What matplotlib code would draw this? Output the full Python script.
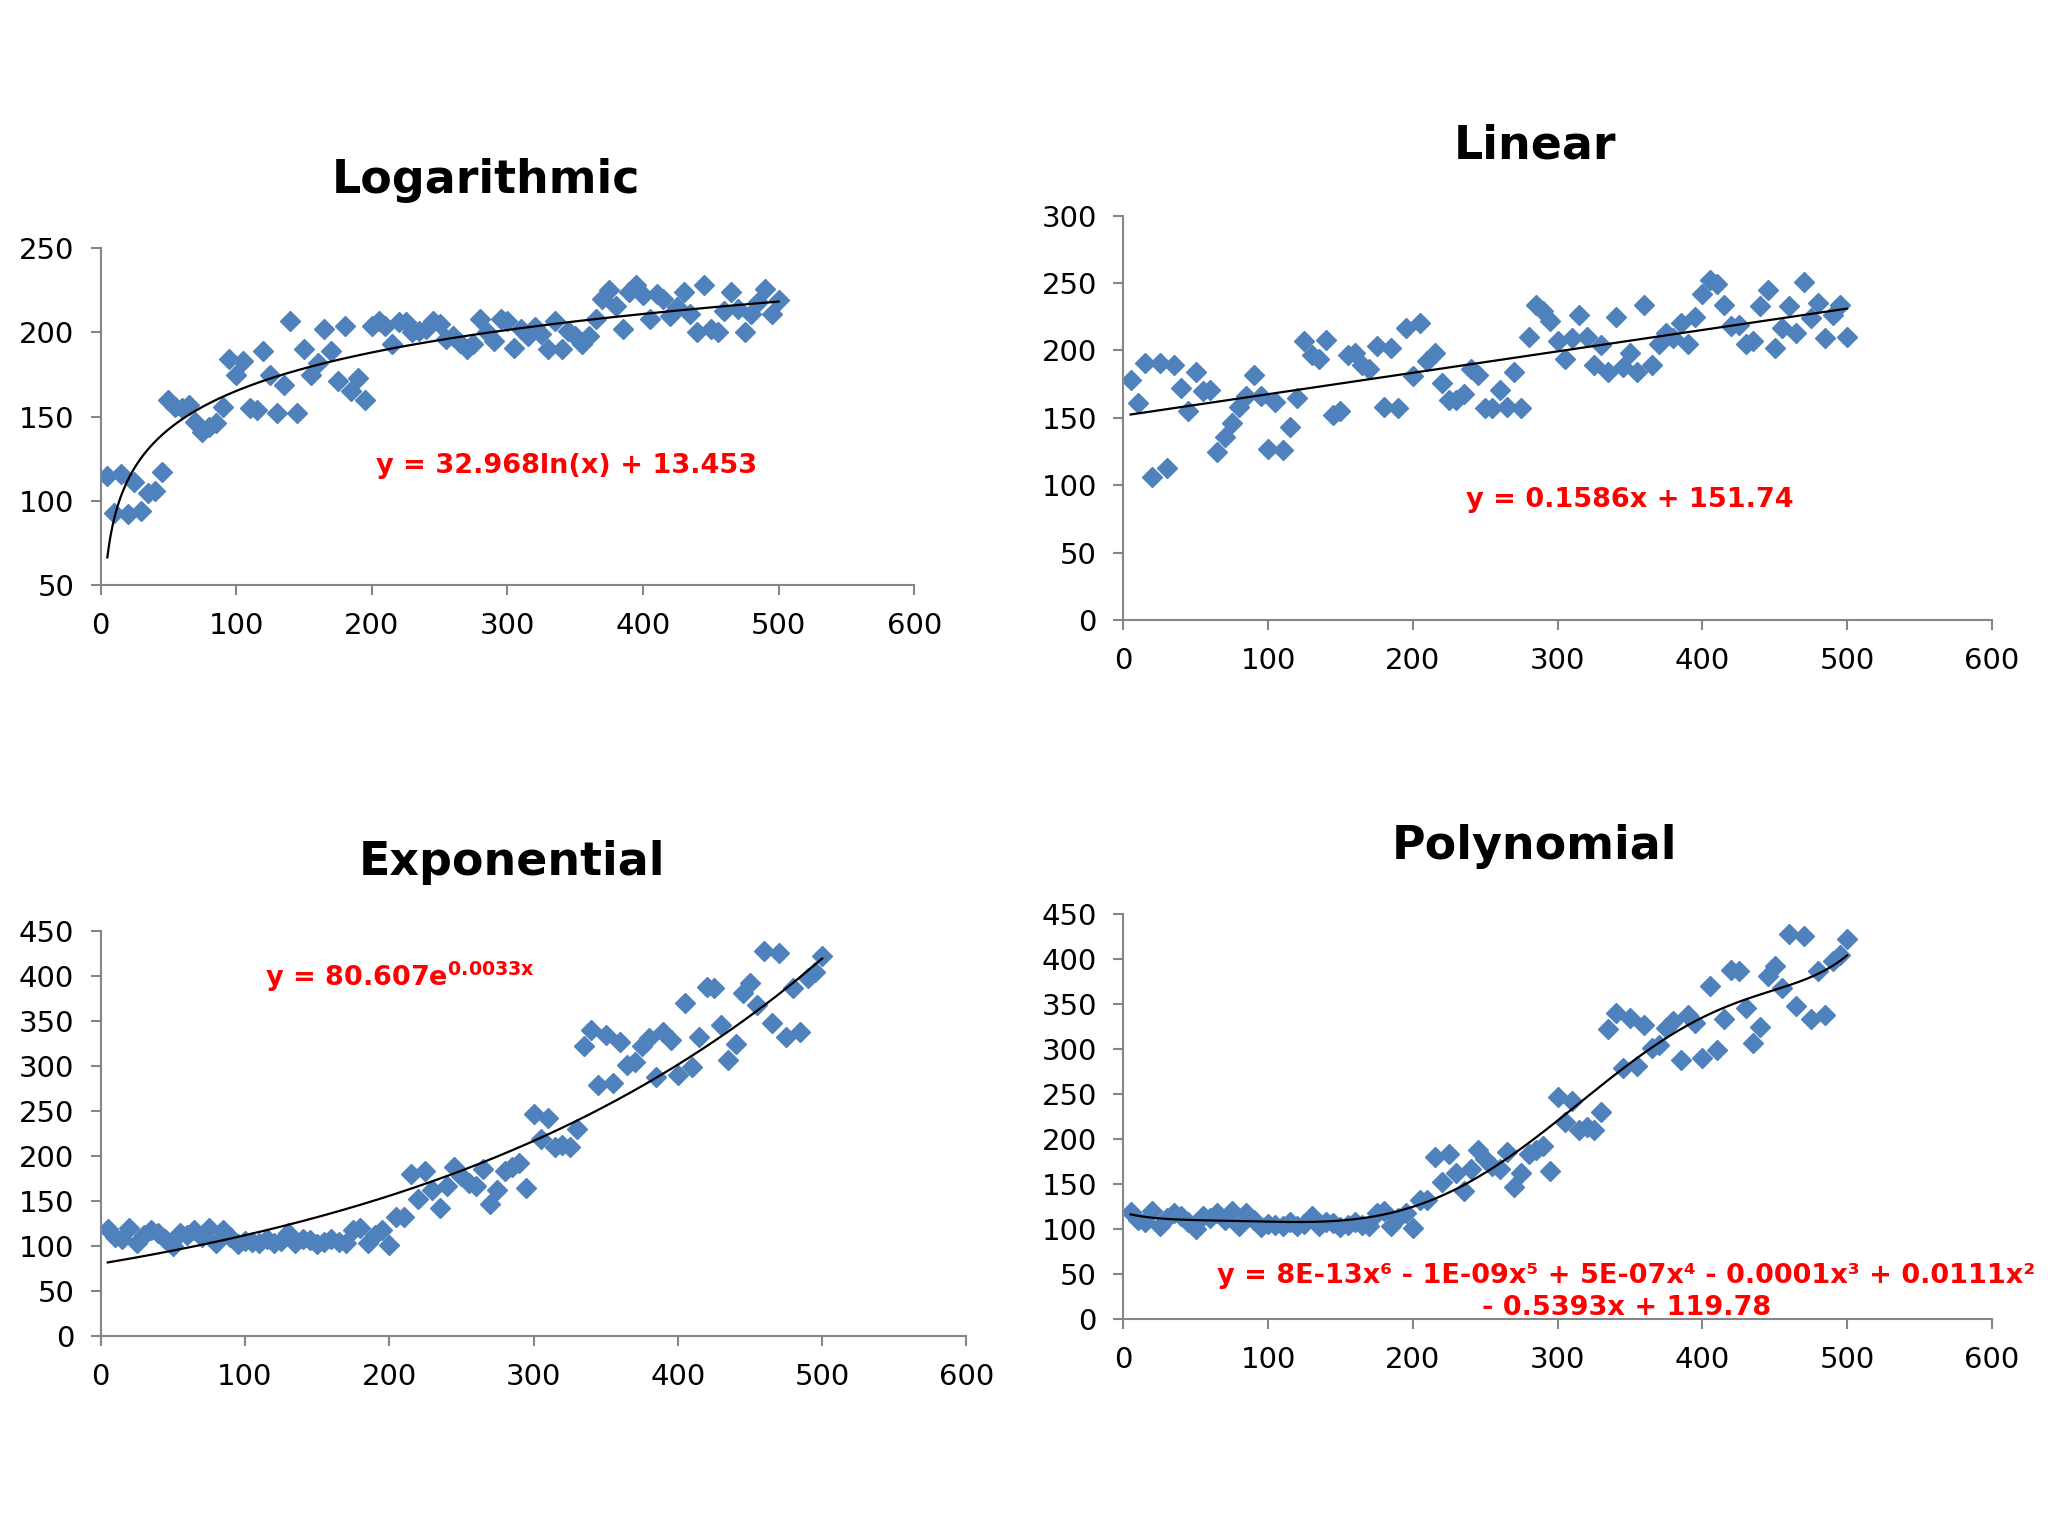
import numpy as np
import matplotlib
matplotlib.use("Agg")
import matplotlib.pyplot as plt

x = np.arange(5, 505, 5)

log_y = [115, 93, 116, 92, 111, 94, 105, 106, 117, 160,
         156, 155, 157, 147, 141, 144, 146, 156, 184, 175,
         183, 155, 154, 189, 175, 152, 169, 207, 152, 190,
         175, 182, 202, 189, 171, 204, 165, 173, 160, 204,
         207, 204, 193, 206, 206, 200, 201, 202, 207, 205,
         196, 198, 194, 190, 193, 208, 200, 195, 208, 207,
         191, 202, 198, 203, 199, 190, 207, 190, 201, 198,
         193, 198, 208, 220, 225, 216, 202, 224, 228, 222,
         208, 223, 220, 210, 215, 224, 211, 200, 228, 202,
         200, 213, 224, 214, 200, 211, 218, 226, 211, 219]

lin_y = [178, 161, 191, 106, 191, 113, 189, 172, 155, 184,
         170, 171, 125, 136, 146, 158, 166, 182, 166, 127,
         162, 126, 143, 165, 207, 197, 194, 208, 152, 155,
         197, 198, 189, 186, 203, 158, 202, 157, 217, 181,
         220, 192, 198, 176, 163, 163, 168, 186, 182, 157,
         157, 171, 158, 184, 157, 210, 234, 229, 222, 207,
         194, 209, 226, 210, 189, 204, 184, 225, 188, 198,
         184, 234, 189, 205, 213, 209, 220, 205, 225, 242,
         252, 249, 234, 218, 219, 205, 207, 233, 245, 202,
         217, 233, 213, 251, 224, 235, 209, 226, 234, 210]

# same series is used for the exponential and polynomial panels
grow_y = [119, 110, 108, 120, 103, 112, 118, 115, 108, 100,
          115, 112, 118, 110, 120, 103, 118, 110, 102, 106,
          105, 104, 108, 104, 106, 115, 104, 108, 107, 102,
          105, 108, 105, 103, 118, 120, 103, 112, 118, 101,
          132, 132, 180, 152, 184, 162, 142, 167, 188, 178,
          170, 167, 186, 147, 162, 184, 188, 192, 165, 247,
          219, 242, 210, 213, 210, 230, 322, 340, 279, 335,
          281, 327, 301, 305, 323, 331, 288, 338, 329, 290,
          370, 299, 333, 388, 387, 346, 307, 325, 381, 392,
          368, 428, 348, 426, 333, 387, 338, 398, 405, 422]

log_coef = [32.968, 13.453]
lin_coef = [0.1586, 151.74]
exp_coef = [80.607, 0.0033]

titles = ["Logarithmic", "Linear", "Exponential", "Polynomial"]
equations = ["y = 32.968ln(x) + 13.453",
             "y = 0.1586x + 151.74",
             r"y = 80.607e$^{\mathbf{0.0033x}}$",
             "y = 8E-13x\u2076 - 1E-09x\u2075 + 5E-07x\u2074 - 0.0001x\u00b3 + 0.0111x\u00b2\n- 0.5393x + 119.78"]

blue = "#4F81BD"
grey = "#868686"
red = "#FF0000"

fig = plt.figure(figsize=(20.48, 15.36), dpi=100)
plt.rcParams["mathtext.fontset"] = "dejavusans"

boxes = [[0.0491, 0.619, 0.3973, 0.2194],
         [0.5485, 0.5961, 0.4241, 0.2636],
         [0.0491, 0.1301, 0.4228, 0.2636],
         [0.5485, 0.1412, 0.4241, 0.2636]]
ylims = [(50, 250), (0, 300), (0, 450), (0, 450)]
title_pos = [(0.2372, 0.8827), (0.7494, 0.9048), (0.25, 0.4388), (0.7494, 0.449)]
eq_pos = [(0.1837, 0.6964, "left"), (0.7156, 0.6743, "left"),
          (0.1295, 0.364, "left"), (0.794, 0.159, "center")]
series = [log_y, lin_y, grow_y, grow_y]

xf = np.linspace(5, 500, 400)
poly = np.polynomial.Polynomial.fit(x, grow_y, 6)
fits = [log_coef[0] * np.log(xf) + log_coef[1],
        lin_coef[0] * xf + lin_coef[1],
        exp_coef[0] * np.exp(exp_coef[1] * xf),
        poly(xf)]

for i in range(4):
    ax = fig.add_axes(boxes[i])
    ax.plot(x, series[i], linestyle="none", marker="D", markersize=10,
            color=blue, markeredgecolor=blue, zorder=2)
    ax.plot(xf, fits[i], color="black", linewidth=1.6, zorder=3)
    ax.set_xlim(0, 600)
    ax.set_ylim(*ylims[i])
    ax.set_xticks(range(0, 700, 100))
    ax.set_yticks(range(ylims[i][0], ylims[i][1] + 1, 50))
    for s in ["top", "right"]:
        ax.spines[s].set_visible(False)
    for s in ["left", "bottom"]:
        ax.spines[s].set_color(grey)
        ax.spines[s].set_linewidth(1.5)
    ax.tick_params(direction="out", length=7, width=1.5, color=grey,
                   labelsize=21, pad=12)
    ax.patch.set_alpha(0)
    fig.text(title_pos[i][0], title_pos[i][1], titles[i], ha="center",
             va="center", fontsize=33, fontweight="bold")
    ex, ey, ha = eq_pos[i]
    fig.text(ex, ey, equations[i], ha=ha, va="center", color=red,
             fontsize=19.5, fontweight="bold",
             multialignment="center", linespacing=1.3)

fig.savefig("out.png", dpi=100)
